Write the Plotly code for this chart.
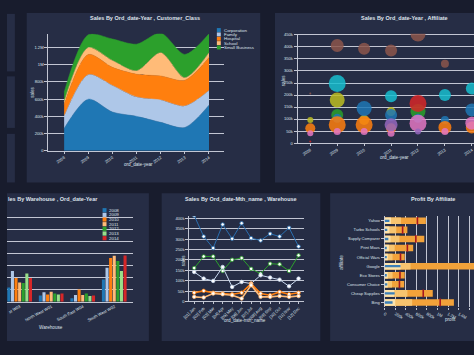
import plotly.graph_objects as go

W, H = 474, 355
PAGE_BG = '#181c2d'
PANEL_BG = '#262d45'
GRID = 'rgba(222,226,236,0.85)'
TXT = '#dfe3ec'
FONT = 'Liberation Sans, Arial, sans-serif'
TICK = dict(size=4.1, color=TXT, family=FONT)

# ---------------- data: panel 1 (stacked area) ----------------
years = ['2008', '2009', '2010', '2011', '2012', '2013', '2014']
customer_classes = ['Corporation', 'Family', 'Hospital', 'School', 'Small Business']
corporation_sales = [260000, 600000, 450000, 400000, 330000, 270000, 530000]
family_sales = [140000, 285000, 310000, 225000, 260000, 250000, 170000]
hospital_sales = [140000, 235000, 210000, 265000, 280000, 300000, 385000]
school_sales = [30000, 80000, 80000, 40000, 270000, 30000, 55000]
small_business_sales = [110000, 150000, 250000, 310000, 230000, 270000, 220000]

# ---------------- data: panel 2 (bubbles) ----------------
affiliates = ['Google', 'Bing', 'Cheap Supplies', 'Consumer Choice', 'Eco Stores',
              'Yahoo', 'Supply Comparer', 'Print Mavs', 'Turbo Schools']
google_sales = [206000, 406000, 392000, 385000, 454000, 330000, None]
google_qty = [2, 13, 12, 12, 15, 8, None]
bing_sales = [None, 248000, None, 195000, None, 200000, 227000]
bing_qty = [None, 17, None, 12, None, 12, 12]
cheap_supplies_sales = [96000, 179000, 96000, 131000, None, None, None]
cheap_supplies_qty = [6, 15, 10, 9, None, None, None]
consumer_choice_sales = [None, 117000, None, None, 131000, None, None]
consumer_choice_qty = [None, 12, None, None, 15, None, None]
eco_stores_sales = [None, 103000, 144000, 117000, 103000, 96000, 138000]
eco_stores_qty = [None, 9, 15, 12, 9, 8, 13]
yahoo_sales = [62000, 76000, 76000, 62000, None, 65000, 65000]
yahoo_qty = [10, 17, 17, 10, None, 13, 12]
supply_comparer_sales = [41000, 48000, 48000, 41000, 83000, 48000, 83000]
supply_comparer_qty = [6, 7, 7, 7, 17, 7, 13]
print_mavs_sales = [None, None, None, 76000, 48000, None, None]
print_mavs_qty = [None, None, None, 13, 6, None, None]
turbo_schools_sales = [7000, None, None, None, 165000, None, None]
turbo_schools_qty = [2, None, None, None, 17, None, None]

# ---------------- data: panel 3 (grouped bars) ----------------
warehouses = ['North East W03', 'North West W01', 'South East W04', 'South West W02']
# the first group sits at the cropped left edge, only the end of its label shows
warehouse_tick_text = ['st W03', 'North West W01', 'South East W04', 'South West W02']
wh_sales_2008 = [59000, 26000, 14000, 92000]
wh_sales_2009 = [128000, 39000, 28000, 141000]
wh_sales_2010 = [99000, 30000, 51000, 182000]
wh_sales_2011 = [80000, 41000, 28000, 191000]
wh_sales_2012 = [78000, 34000, 34000, 169000]
wh_sales_2013 = [117000, 30000, 24000, 128000]
wh_sales_2014 = [99000, 34000, 26000, 192000]

# ---------------- data: panel 4 (lines) ----------------
months = ['[01] Jan', '[02] Feb', '[03] Mar', '[04] Apr', '[05] May', '[06] Jun',
          '[07] Jul', '[08] Aug', '[09] Sep', '[10] Oct', '[11] Nov', '[12] Dec']
line_names = ['South West W02', 'North East W03', 'North West W01', 'South East W04', 'Central W05']
south_west_w02 = [414000, 313000, 257000, 371000, 302000, 377000, 305000, 294000, 326000, 313000, 355000, 265000]
north_east_w03 = [161000, 217000, 217000, 147000, 201000, 209000, 157000, 134000, 182000, 179000, 147000, 222000]
north_west_w01 = [142000, 110000, 99000, 166000, 70000, 94000, 86000, 126000, 115000, 105000, 73000, 110000]
south_east_w04 = [42000, 51000, 42000, 38000, 35000, 42000, 86000, 38000, 30000, 46000, 35000, 42000]
central_w05 = [22000, 19000, 38000, 35000, 30000, 14000, 78000, 22000, 22000, 26000, 22000, 26000]

# ---------------- data: panel 5 (bullet) ----------------
bullet_affiliates = ['Yahoo', 'Turbo Schools', 'Supply Comparer', 'Print Mavs', 'Official Wars',
                     'Google', 'Eco Stores', 'Consumer Choice', 'Cheap Supplies', 'Bing']
range_low = [120000, 90000, 110000, 80000, 60000, 300000, 60000, 60000, 180000, 200000]
range_mid = [310000, 220000, 280000, 190000, 150000, 490000, 150000, 140000, 430000, 520000]
range_high = [780000, 430000, 750000, 540000, 380000, 2400000, 380000, 370000, 910000, 1310000]
profit_actual = [90000, 50000, 70000, 40000, 40000, 300000, 40000, 50000, 190000, 150000]
profit_target = [620000, 340000, 590000, 430000, 300000, 1900000, 290000, 280000, 730000, 1050000]

CAT20 = ['#1f77b4', '#aec7e8', '#ff7f0e', '#ffbb78', '#2ca02c', '#98df8a', '#d62728']


def xd(a, b):
    return [max(0, a / W), min(1, b / W)]


def yd(top, bottom):
    return [1 - bottom / H, 1 - top / H]


fig = go.Figure()

# ---- panel 1 traces
for name, vals, col in zip(customer_classes,
                           [corporation_sales, family_sales, hospital_sales, school_sales, small_business_sales],
                           CAT20[:5]):
    fig.add_trace(go.Scatter(x=years, y=vals, name=name, stackgroup='cc', mode='lines',
                             line=dict(width=0.5, color=col, shape='spline', smoothing=0.8),
                             fillcolor=col, xaxis='x', yaxis='y', showlegend=False))

# ---- panel 2 traces
bubble_colors = ['#8c564b', '#17becf', '#bcbd22', '#2ca02c', '#1f77b4', '#ff7f0e', '#e377c2', '#9467bd', '#d62728']
bubble_sales = [google_sales, bing_sales, cheap_supplies_sales, consumer_choice_sales, eco_stores_sales,
                yahoo_sales, supply_comparer_sales, print_mavs_sales, turbo_schools_sales]
bubble_qty = [google_qty, bing_qty, cheap_supplies_qty, consumer_choice_qty, eco_stores_qty,
              yahoo_qty, supply_comparer_qty, print_mavs_qty, turbo_schools_qty]
for name, s, q, col in zip(affiliates, bubble_sales, bubble_qty, bubble_colors):
    fig.add_trace(go.Scatter(x=years, y=s, name=name, mode='markers',
                             marker=dict(size=[v if v else 0 for v in q], sizemode='diameter',
                                         color=col, opacity=0.85, line=dict(width=0)),
                             xaxis='x2', yaxis='y2', showlegend=False))

# ---- panel 3 traces
wh_year_series = [wh_sales_2008, wh_sales_2009, wh_sales_2010, wh_sales_2011,
                  wh_sales_2012, wh_sales_2013, wh_sales_2014]
group_w = 0.8
slot = group_w / len(years)
for i, (yr, vals) in enumerate(zip(years, wh_year_series)):
    fig.add_trace(go.Bar(x=warehouses, y=vals, name=yr, marker=dict(color=CAT20[i], line=dict(width=0)),
                         width=slot * 0.85, offset=-group_w / 2 + i * slot,
                         xaxis='x3', yaxis='y3', showlegend=False))

# ---- panel 4 traces
line_colors = ['#2a6fb0', '#2ca02c', '#c9d9ef', '#ff7f0e', '#ffbb78']
line_widths = [1, 1, 1, 1.6, 1.6]
for name, vals, col, lw in zip(line_names,
                               [south_west_w02, north_east_w03, north_west_w01, south_east_w04, central_w05],
                               line_colors, line_widths):
    fig.add_trace(go.Scatter(x=months, y=vals, name=name, mode='lines+markers',
                             line=dict(color=col, width=lw),
                             marker=dict(size=3.5, color='white', line=dict(color=col, width=0.8)),
                             xaxis='x4', yaxis='y4', showlegend=False))

# ---- panel 5 traces
for vals, col in zip([range_high, range_mid, range_low], ['#f2a23a', '#f7c46f', '#fbe3ad']):
    fig.add_trace(go.Bar(y=bullet_affiliates, x=vals, orientation='h', marker=dict(color=col, line=dict(width=0)),
                         width=0.72, offset=-0.36, xaxis='x5', yaxis='y5', showlegend=False))
fig.add_trace(go.Bar(y=bullet_affiliates, x=profit_actual, orientation='h',
                     marker=dict(color='#3b7fb8', line=dict(width=0)),
                     width=0.26, offset=-0.13, xaxis='x5', yaxis='y5', showlegend=False))
fig.add_trace(go.Scatter(y=bullet_affiliates, x=profit_target, mode='markers',
                         marker=dict(symbol='line-ns', size=5.5, line=dict(color='#a8161e', width=1.6)),
                         xaxis='x5', yaxis='y5', showlegend=False))

# ---------------- layout ----------------
def yaxis(domain, rng, anchor, **kw):
    d = dict(domain=yd(*domain), range=rng, anchor=anchor, showgrid=True, gridcolor=GRID, gridwidth=1,
             zeroline=False, showline=True, linecolor=GRID, linewidth=1, ticks='outside', ticklen=3,
             tickcolor=GRID, tickfont=TICK, tickformat='~s', fixedrange=True)
    d.update(kw)
    return d


def xaxis(domain, rng, anchor, **kw):
    d = dict(domain=xd(*domain), range=rng, anchor=anchor, showgrid=False, zeroline=False,
             showline=True, linecolor=GRID, linewidth=1, ticks='outside', ticklen=2, tickcolor=GRID,
             tickfont=TICK, fixedrange=True)
    d.update(kw)
    return d


panels = [(0, 13, 8, 71), (0, 76, 8, 128), (0, 134, 8, 183),
          (20, 12, 257, 183), (272, 12, 474, 183),
          (0, 194, 144, 343), (157, 194, 318, 343), (328, 194, 474, 343)]
shapes = [dict(type='rect', xref='paper', yref='paper', x0=a / W, x1=c / W, y0=1 - d / H, y1=1 - b / H,
               fillcolor=PANEL_BG, line=dict(width=0), layer='below') for a, b, c, d in panels]

annotations = []


def text(x, y, s, size=4.6, bold=False, angle=0, xanchor='center', color=TXT):
    annotations.append(dict(x=x / W, y=1 - y / H, xref='paper', yref='paper', text=f'<b>{s}</b>' if bold else s,
                            showarrow=False, textangle=angle, xanchor=xanchor, yanchor='middle',
                            borderpad=0, font=dict(size=size, color=color, family=FONT)))


# titles (the warehouse panel is cropped at the left edge of the view)
text(140, 17, 'Sales By Ord_date-Year , Customer_Class', size=5.5, bold=True)
text(403, 17, 'Sales By Ord_date-Year , Affiliate', size=5.5, bold=True)
text(0.5, 200, 'les By Warehouse , Ord_date-Year', size=5.5, bold=True, xanchor='left')
text(238, 200, 'Sales By Ord_date-Mth_name , Warehouse', size=5.5, bold=True)
text(432, 200, 'Profit By Affiliate', size=5.5, bold=True)
# axis titles
text(26, 92, 'sales', angle=-90)
text(133, 165, 'ord_date-year')
text(280, 80, 'sales', angle=-90)
text(393, 158, 'ord_date-year')
text(45, 329, 'Warehouse')
text(179, 262, 'sales', angle=-90)
text(242, 322, 'ord_date-mth_name')
text(340, 263, 'affiliate', angle=-90)
text(450, 321, 'profit')

# legends (manual, compact)
for i, (name, col) in enumerate(zip(customer_classes, CAT20[:5])):
    yy = 29.3 + i * 4.4
    shapes.append(dict(type='rect', xref='paper', yref='paper', x0=213 / W, x1=217 / W,
                       y0=1 - (yy + 2) / H, y1=1 - (yy - 2) / H, fillcolor=col, line=dict(width=0)))
    text(219, yy, name, size=4.4, xanchor='left')
for i, (yr, col) in enumerate(zip(years, CAT20)):
    yy = 211 + i * 4.7
    shapes.append(dict(type='rect', xref='paper', yref='paper', x0=97 / W, x1=101 / W,
                       y0=1 - (yy + 2.1) / H, y1=1 - (yy - 2.1) / H, fillcolor=col, line=dict(width=0)))
    text(103, yy, yr, size=4.4, xanchor='left')

fig.update_layout(
    width=W, height=H, autosize=False, margin=dict(l=0, r=0, t=0, b=0, pad=0),
    paper_bgcolor=PAGE_BG, plot_bgcolor='rgba(0,0,0,0)', barmode='overlay',
    font=dict(family=FONT, color=TXT, size=4.5), showlegend=False,
    shapes=shapes, annotations=annotations,
    xaxis=xaxis((42, 220), [-0.653, 6.612], 'y', type='category', tickangle=-35),
    yaxis=yaxis((33, 151), [0, 1361500], 'x', dtick=200000),
    xaxis2=xaxis((295, 474), [-0.47, 6.08], 'y2', type='category', tickangle=-35),
    yaxis2=yaxis((33, 143.3), [0, 455000], 'x2', dtick=50000),
    xaxis3=xaxis((0, 128), [-0.41, 3.59], 'y3', type='category', tickangle=-28, ticks='',
                 tickmode='array', tickvals=warehouses, ticktext=warehouse_tick_text),
    yaxis3=yaxis((215.9, 303.3), [0, 360000], 'x3', dtick=50000, showticklabels=False, showline=False, ticks=''),
    xaxis4=xaxis((185, 301.7), [-0.52, 11.6], 'y4', type='category', tickangle=-45),
    yaxis4=yaxis((217.2, 303), [0, 410000], 'x4', dtick=50000),
    xaxis5=xaxis((383.3, 474), [0, 1690000], 'y5', showgrid=True, gridcolor=GRID, dtick=200000,
                 tickformat='~s', showline=False, ticks='outside', ticklen=2),
    yaxis5=yaxis((217.1, 308.6), [9.5, -0.5], 'x5', type='category', showgrid=False, tickformat=''),
)

fig.write_html("out.html",
               config={'displayModeBar': False, 'responsive': False},
               post_script="document.body.style.margin='0';document.body.style.overflow='hidden';"
                           "document.body.style.background='" + PAGE_BG + "';")
